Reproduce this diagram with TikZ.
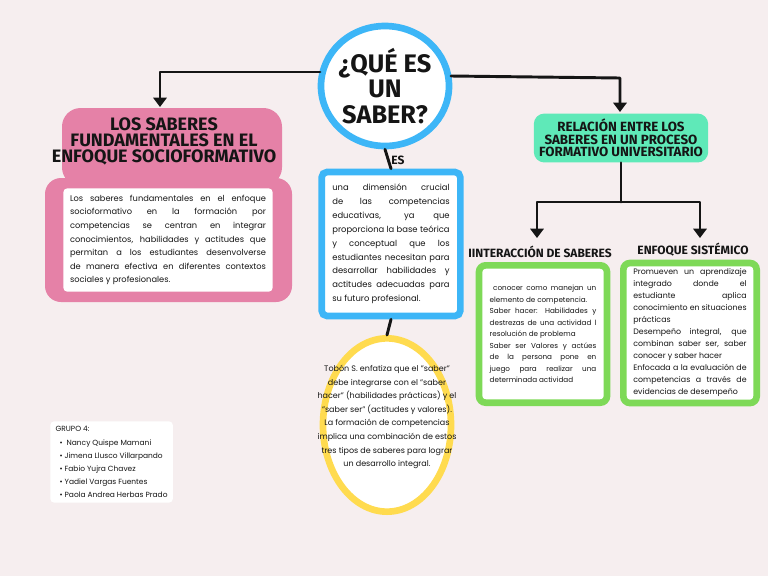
\documentclass[tikz,border=0pt]{standalone}
\usepackage{fontspec}
\setmainfont{Poppins}
\newfontfamily\ttl{Fira Sans}
\usetikzlibrary{arrows.meta,shapes.geometric}
\definecolor{bg}{HTML}{F6EEEF}
\definecolor{cblue}{HTML}{3DB6F7}
\definecolor{cpink}{HTML}{E581A7}
\definecolor{cyel}{HTML}{FFDB4F}
\definecolor{cmint}{HTML}{5FE9B8}
\definecolor{cgreen}{HTML}{7ED957}
\definecolor{ink}{HTML}{151515}
\hyphenpenalty=10000 \exhyphenpenalty=10000 \tolerance=9999 \emergencystretch=20pt
\tikzset{
 conn/.style={line width=2.2pt,ink,line cap=round,line join=round},
 arr/.style={conn,-{Triangle[length=7pt,width=10pt]}},
 body/.style={font=\fontsize{6.2}{10.5}\selectfont,align=justify,text=ink},
 head/.style={font=\ttl\bfseries,text=ink,align=center},
}
\begin{document}
\begin{tikzpicture}[x=0.75pt,y=-0.75pt]
\fill[bg] (0,0) rectangle (768,576);
\useasboundingbox (0,0) rectangle (768,576);
% main circle
\node[draw=cblue,line width=5pt,fill=white,ellipse,inner sep=0pt,minimum width=96pt,minimum height=90pt] (q) at (385,86) {};
\node[head,font=\ttl\bfseries\fontsize{19}{19}\selectfont] at (q) {¿QUÉ ES\\UN\\SABER?};
\coordinate (l1) at (320,72); \coordinate (l2) at (160,72); \coordinate (l3) at (160,107);
\coordinate (r1) at (451,76); \coordinate (r2) at (620,78); \coordinate (r3) at (620,112);
\draw[arr] (l1) -- (l2) -- (l3);
\draw[arr] (r1) -- (r2) -- (r3);
% pink
\fill[cpink,rounded corners=14pt] (62,108) rectangle (282,186);
\fill[cpink,rounded corners=12pt] (45,178) rectangle (292,302);
\node[head,font=\ttl\bfseries\fontsize{13.5}{12}\selectfont] (pt) at (164,141) {LOS SABERES\\FUNDAMENTALES EN EL\\ENFOQUE SOCIOFORMATIVO};
\node[fill=white,rounded corners=3pt,text width=147pt,body,font=\fontsize{6.2}{10.2}\selectfont,inner sep=5pt] (ptx) at (168,240) {Los saberes fundamentales en el enfoque socioformativo en la formación por competencias se centran en integrar conocimientos, habilidades y actitudes que permitan a los estudiantes desenvolverse de manera efectiva en diferentes contextos sociales y profesionales.};
% blue box
\node[draw=cblue,line width=5pt,fill=white,rounded corners=4pt,minimum width=104pt,minimum height=108pt] (bb) at (391,244) {};
\node[body,text width=88pt,font=\fontsize{6.3}{10.4}\selectfont] at (bb) {una dimensión crucial de las competencias educativas, ya que proporciona la base teórica y conceptual que los estudiantes necesitan para desarrollar habilidades y actitudes adecuadas para su futuro profesional.};
\draw[conn] (q.south) -- (bb.north);
\node[head,font=\ttl\bfseries\fontsize{9}{9}\selectfont] at (398,160) {ES};
% yellow
\node[draw=cyel,line width=5pt,fill=white,ellipse,minimum width=96pt,minimum height=130pt] (ye) at (387,425) {};
\draw[conn] (bb.south) -- (ye.north);
\node[body,align=center,font=\fontsize{6}{10.2}\selectfont] at (387,417) {Tobón S. enfatiza que el "saber"\\debe integrarse con el "saber\\hacer" (habilidades prácticas) y el\\"saber ser" (actitudes y valores).\\La formación de competencias\\implica una combinación de estos\\tres tipos de saberes para lograr\\un desarrollo integral.};
% mint
\node[fill=cmint,rounded corners=8pt,head,font=\ttl\bfseries\fontsize{10}{9.5}\selectfont,inner sep=4pt] (mt) at (621,138) {RELACIÓN ENTRE LOS\\SABERES EN UN PROCESO\\FORMATIVO UNIVERSITARIO};
\coordinate (m1) at (621,202); \coordinate (m2) at (537,202); \coordinate (m3) at (700,202);
\coordinate (a1) at (537,238); \coordinate (a2) at (700,238);
\draw[conn] (mt.south) -- (m1);
\draw[arr] (m1) -- (m2) -- (a1);
\draw[arr] (m1) -- (m3) -- (a2);
\node[head,font=\ttl\bfseries\fontsize{9}{9}\selectfont] at (540,252) {IINTERACCIÓN DE SABERES};
\node[head,font=\ttl\bfseries\fontsize{9}{9}\selectfont] at (693,250) {ENFOQUE SISTÉMICO};
% green boxes
\node[draw=cgreen,line width=5pt,fill=white,rounded corners=5pt,minimum width=96pt,minimum height=103pt] (g1) at (543,334) {};
\node[body,text width=80pt,font=\fontsize{5.4}{8.6}\selectfont] at (g1) {\ conocer como manejan un elemento de competencia.\\\ Saber hacer: Habilidades y destrezas de una actividad l resolución de problema\\Saber ser Valores y actúes de la persona pone en juego para realizar una determinada actividad};
\node[draw=cgreen,line width=5pt,fill=white,rounded corners=5pt,minimum width=100pt,minimum height=105pt] (g2) at (690,333) {};
\node[body,text width=85pt,font=\fontsize{5.9}{9}\selectfont] at (g2) {Promueven un aprendizaje integrado donde el estudiante aplica conocimiento en situaciones prácticas\\Desempeño integral, que combinan saber ser, saber conocer y saber hacer\\Enfocada a la evaluación de competencias a través de evidencias de desempeño};
% group
\node[fill=white,rounded corners=3pt,anchor=north west,inner sep=4pt,font=\fontsize{5.6}{9.8}\selectfont,align=left,text=ink] (gr) at (50,421) {GRUPO 4:\\
\ \ \textbullet\ \ Nancy Quispe Mamani\\
\ \ \textbullet\ Jimena Llusco Villarpando\\
\ \ \textbullet\ Fabio Yujra Chavez\\
\ \ \textbullet\ Yadiel Vargas Fuentes\\
\ \ \textbullet\ Paola Andrea Herbas Prado};
\end{tikzpicture}
\end{document}
